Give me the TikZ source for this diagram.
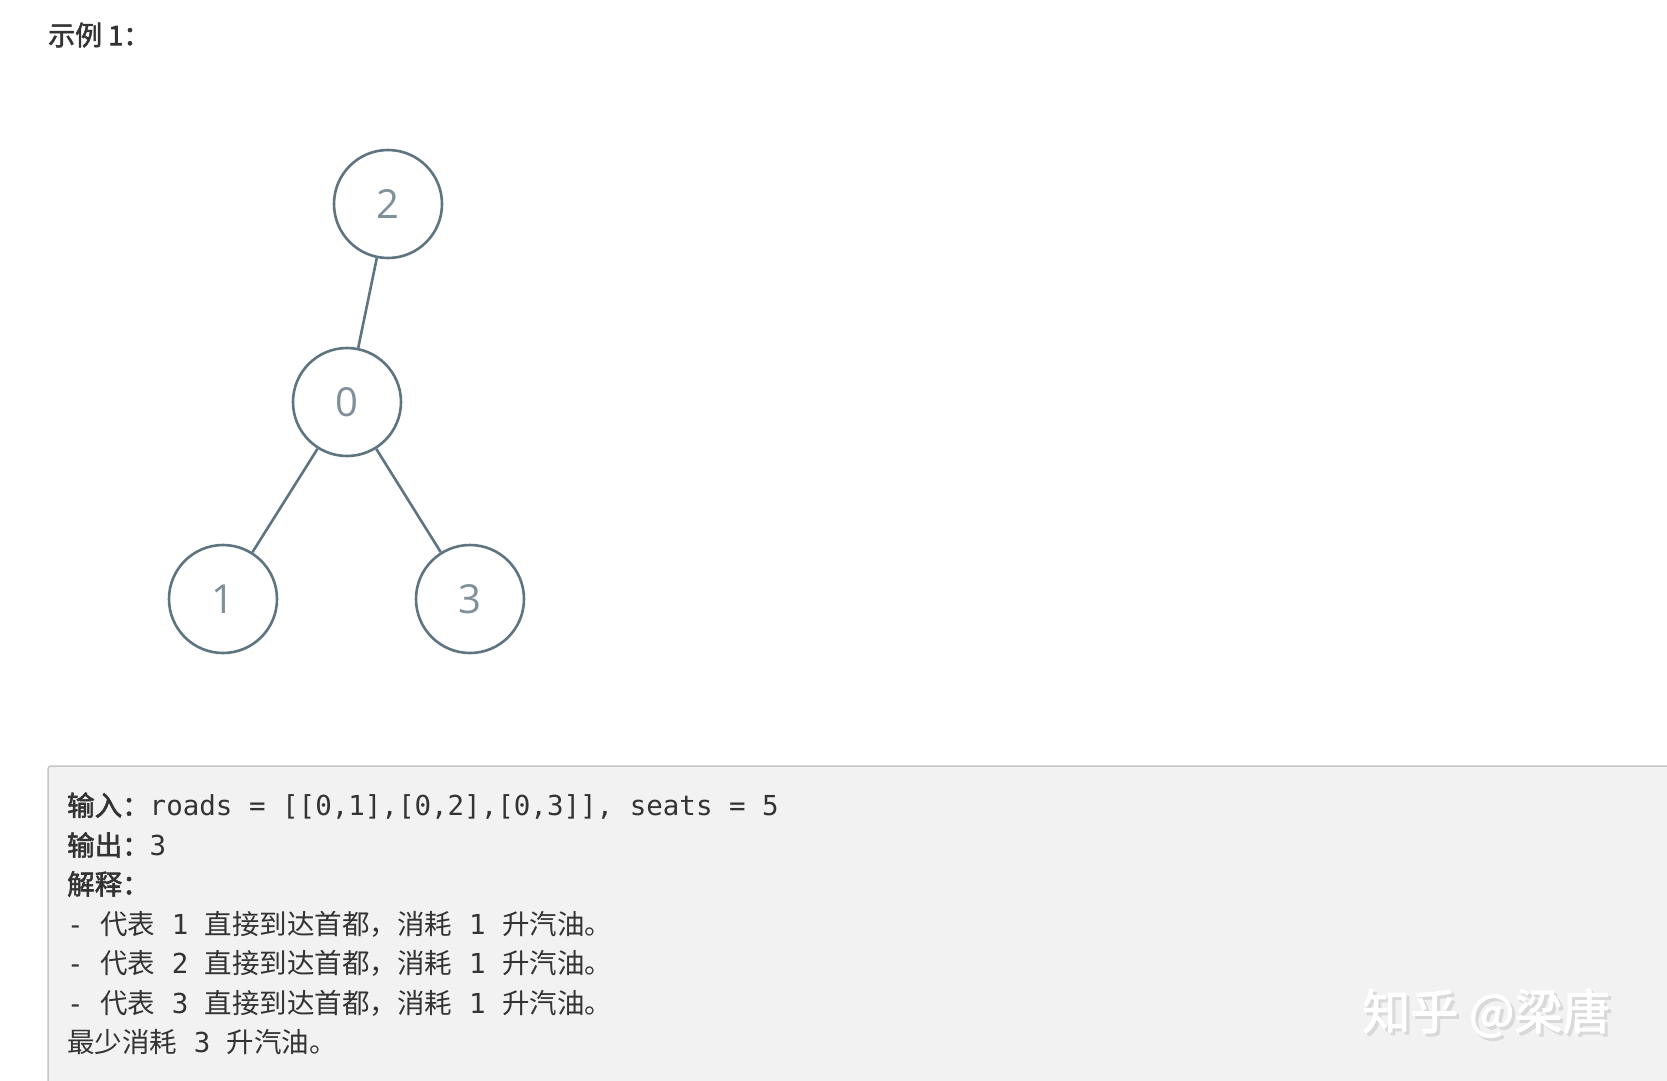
\documentclass[tikz,border=0pt]{standalone}
\usepackage{fontspec}
\setmainfont{Open Sans}
\setmonofont{DejaVu Sans Mono}
\newfontfamily\cjk{Noto Sans CJK SC}
\newfontfamily\cjkb{Noto Sans CJK SC}[FakeBold=2]
\definecolor{edge}{HTML}{5F7481}
\definecolor{txt}{HTML}{333333}
\tikzset{
  tn/.style={circle,draw=edge,line width=2.6pt,minimum size=108pt,inner sep=0pt,font=\fontsize{40}{40}\selectfont,text=edge!80},
  ln/.style={anchor=west,inner sep=0pt,text=txt,font=\fontsize{27.5}{30}\selectfont\ttfamily},
}
\begin{document}
\begin{tikzpicture}[x=1pt,y=-1pt]
\useasboundingbox (0,0) rectangle (1667,1080);
\fill[white] (0,0) rectangle (1667,1080);
\node[anchor=west,inner sep=0pt,text=txt,font=\fontsize{27}{30}\cjkb] (title) at (48,35) {示例 1：};
\node[tn] (n2) at (388,204) {2};
\node[tn] (n0) at (347,402) {0};
\node[tn] (n1) at (223,599) {1};
\node[tn] (n3) at (470,599) {3};
\draw[edge,line width=2.6pt] (n2) -- (n0) (n0) -- (n1) (n0) -- (n3);
\draw[fill=gray!10,draw=gray!45,line width=1.5pt,rounded corners=3pt] (48,766) rectangle (1690,1095);
\node[ln] (l1) at (67,806) {{\cjkb 输入：}roads = [[0,1],[0,2],[0,3]], seats = 5};
\node[ln] (l2) at (67,845) {{\cjkb 输出：}3};
\node[ln] (l3) at (67,884) {{\cjkb 解释：}};
\node[ln] (l4) at (67,924) {- {\cjk 代表} 1 {\cjk 直接到达首都，消耗} 1 {\cjk 升汽油。}};
\node[ln] (l5) at (67,963) {- {\cjk 代表} 2 {\cjk 直接到达首都，消耗} 1 {\cjk 升汽油。}};
\node[ln] (l6) at (67,1003) {- {\cjk 代表} 3 {\cjk 直接到达首都，消耗} 1 {\cjk 升汽油。}};
\node[ln] (l7) at (67,1042) {{\cjk 最少消耗} 3 {\cjk 升汽油。}};
\node[anchor=west,inner sep=0pt,text=gray!30,font=\fontsize{48}{50}\cjkb] (wm2) at (1365,1016) {知乎 @梁唐};
\node[anchor=west,inner sep=0pt,text=white,font=\fontsize{48}{50}\cjkb] (wm) at (1362,1013) {知乎 @梁唐};
\end{tikzpicture}
\end{document}
